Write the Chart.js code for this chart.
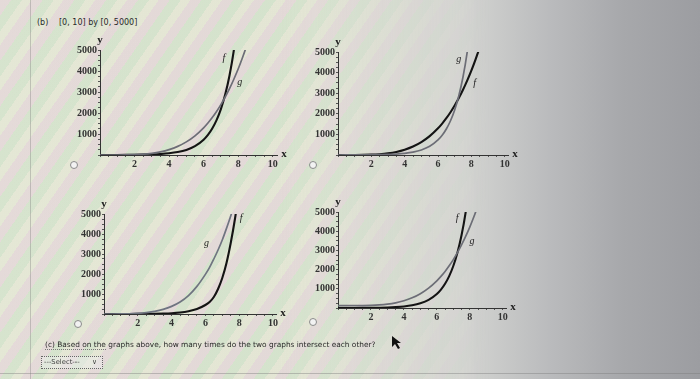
<!DOCTYPE html>
<html>
<head>
<meta charset="utf-8">
<script src="https://cdn.jsdelivr.net/npm/chart.js@4.4.1/dist/chart.umd.min.js"></script>
<style>
  html, body { margin: 0; padding: 0; }
  body {
    width: 700px; height: 379px; overflow: hidden; position: relative;
    background: linear-gradient(to right, #e1e4da 0%, #dfe2d8 45%, #d4d5d2 66%, #b9babc 79%, #a7a8ab 89%, #9c9da1 100%);
    font-family: "DejaVu Sans", sans-serif; color: #2a2a2a;
  }
  .stripes {
    position: absolute; left: 0; top: 0; width: 700px; height: 379px;
    background: repeating-linear-gradient(125deg, rgba(236,196,214,0.3) 0 9px, rgba(190,228,178,0.3) 9px 18px, rgba(240,240,200,0.25) 18px 26px);
    -webkit-mask-image: linear-gradient(to right, #000 0%, #000 40%, transparent 70%);
    mask-image: linear-gradient(to right, #000 0%, #000 40%, transparent 70%);
  }
  canvas { position: absolute; }
  .txt { position: absolute; white-space: nowrap; }
  .radio {
    position: absolute; width: 6px; height: 6px;
    border: 1px solid #8a8a8a; border-radius: 50%; background: #f2f2f2;
  }
  .select {
    position: absolute; left: 41px; top: 356px; width: 58px; height: 11px;
    border: 1px dotted #666; font-size: 6.8px; line-height: 11px; color: #444;
    padding-left: 2px; background: rgba(235,235,235,0.5);
  }
</style>
</head>
<body>
<div class="stripes"></div>
<div style="position:absolute;left:30px;top:0;width:1px;height:379px;background:rgba(120,120,120,0.35)"></div>
<div style="position:absolute;left:0;top:373px;width:700px;height:1px;background:rgba(120,120,120,0.4)"></div>

<div class="txt" style="left:37px;top:18px;font-size:8px">(b)</div>
<div class="txt" style="left:59px;top:18px;font-size:8px">[0, 10] by [0, 5000]</div>

<canvas id="panelA"></canvas>
<canvas id="panelB"></canvas>
<canvas id="panelC"></canvas>
<canvas id="panelD"></canvas>

<div class="radio" style="left:70px;top:161px"></div>
<div class="radio" style="left:309px;top:161px"></div>
<div class="radio" style="left:74px;top:320px"></div>
<div class="radio" style="left:309px;top:318px"></div>

<div class="txt" style="left:45px;top:340px;font-size:7.4px"><span style="border-bottom:1px dotted #777">(c) Based on the</span> graphs above, how many times do the two graphs intersect each other?</div>
<div class="select">---Select---<span style="position:absolute;right:5px;top:0">&#8744;</span></div>
<svg style="position:absolute;left:390px;top:335px" width="12" height="16">
  <polygon points="2,1 2,12 5,9 8,14 10,13 7,8 11,8" fill="#111"/>
</svg>

<script>
const xValues = [0, 0.5, 1, 1.5, 2, 2.5, 3, 3.5, 4, 4.5, 5, 5.5, 6, 6.25, 6.5, 6.75, 7, 7.25, 7.5, 7.75, 8, 8.25, 8.5, 8.75, 9];

// top left panel
const panelA_f = [1, 2, 3, 5, 9, 16, 27, 47, 81, 140, 243, 421, 729, 959, 1263, 1662, 2187, 2878, 3788, 4985, 6561, 8635, 11364, 14956, 19683];
const panelA_g = [0, 0, 1, 5, 16, 39, 81, 150, 256, 410, 625, 915, 1296, 1526, 1785, 2076, 2401, 2763, 3164, 3608, 4096, 4632, 5220, 5862, 6561];

// top right panel
const panelB_f = [0, 0, 1, 5, 16, 39, 81, 150, 256, 410, 625, 915, 1296, 1526, 1785, 2076, 2401, 2763, 3164, 3608, 4096, 4632, 5220, 5862, 6561];
const panelB_g = [1, 2, 3, 5, 9, 16, 27, 47, 81, 140, 243, 421, 729, 959, 1263, 1662, 2187, 2878, 3788, 4985, 6561, 8635, 11364, 14956, 19683];

// bottom left panel
const panelC_f = [0, 0, 1, 2, 4, 7, 12, 22, 40, 75, 140, 250, 450, 600, 850, 1250, 1800, 2550, 3550, 4750, 6200, 7900, 9900, 12200, 15000];
const panelC_g = [0, 0, 2, 8, 30, 70, 130, 230, 380, 600, 920, 1380, 1980, 2330, 2750, 3200, 3700, 4280, 4900, 5600, 6300, 7150, 8050, 9050, 10150];

// bottom right panel
const panelD_f = [1, 2, 3, 5, 9, 16, 27, 47, 81, 140, 243, 421, 729, 959, 1263, 1662, 2187, 2878, 3788, 4985, 6561, 8635, 11364, 14956, 19683];
const panelD_g = [120, 120, 121, 125, 136, 159, 201, 270, 376, 530, 745, 1035, 1416, 1646, 1905, 2196, 2521, 2883, 3284, 3728, 4216, 4752, 5340, 5982, 6681];

const BLACK = '#141414';
const GREY = '#6c6d76';

// axis letters and curve names
const labelPlugin = {
  id: 'curveLabels',
  afterDraw(chart, args, opts) {
    const ctx = chart.ctx, area = chart.chartArea;
    const xs = chart.scales.x, ys = chart.scales.y;
    ctx.save();
    ctx.fillStyle = '#222';
    ctx.textAlign = 'center';
    ctx.textBaseline = 'middle';
    ctx.font = 'bold 11px "Liberation Serif"';
    ctx.fillText('y', area.left, area.top - 10);
    ctx.fillText('x', area.right + 7, area.bottom - 1);
    ctx.font = 'italic 10px "Liberation Serif"';
    (opts.items || []).forEach(function (it) {
      ctx.fillText(it.text, xs.getPixelForValue(it.x), ys.getPixelForValue(it.y));
    });
    ctx.restore();
  }
};

function toPoints(ys) {
  return xValues.map(function (x, i) { return { x: x, y: ys[i] }; });
}

function makePanel(id, box, xMax, fVals, gVals, fColor, gColor, names) {
  const cv = document.getElementById(id);
  const left = box.L - 62, top = box.T - 16;
  const w = box.R - box.L + 82, h = box.B - box.T + 38;
  cv.style.left = left + 'px';
  cv.style.top = top + 'px';
  cv.width = w; cv.height = h;

  const tickFont = { family: '"Liberation Serif"', size: 10, weight: 'bold' };
  new Chart(cv.getContext('2d'), {
    type: 'line',
    data: {
      datasets: [
        { data: toPoints(gVals), borderColor: gColor, borderWidth: 1.7 },
        { data: toPoints(fVals), borderColor: fColor, borderWidth: 2.1 }
      ]
    },
    options: {
      responsive: false,
      animation: false,
      devicePixelRatio: 1,
      layout: { padding: { left: 0, top: 16, right: 20, bottom: 0 } },
      elements: { point: { radius: 0 }, line: { cubicInterpolationMode: 'monotone', fill: false } },
      plugins: {
        legend: { display: false },
        tooltip: { enabled: false },
        curveLabels: { items: names }
      },
      scales: {
        x: {
          type: 'linear', min: 0, max: xMax,
          afterFit: function (s) { s.height = 22; },
          border: { color: '#333', width: 1 },
          grid: { drawOnChartArea: false, tickLength: 2, tickColor: '#555' },
          ticks: {
            stepSize: 0.5, autoSkip: false, includeBounds: false, maxRotation: 0,
            padding: 1, color: '#333', font: tickFont,
            callback: function (v) { return (v > 0 && v % 2 === 0) ? String(v) : ''; }
          }
        },
        y: {
          min: 0, max: 5000,
          afterFit: function (s) { s.width = 62; },
          border: { color: '#333', width: 1 },
          grid: { drawOnChartArea: false, tickLength: 2, tickColor: '#555' },
          ticks: {
            stepSize: 250, autoSkip: false, padding: 1, color: '#333', font: tickFont,
            callback: function (v) { return (v > 0 && v % 1000 === 0) ? String(v) : ''; }
          }
        }
      }
    },
    plugins: [labelPlugin]
  });
}

makePanel('panelA', { L: 100, T: 50, R: 277, B: 155 }, 10.25, panelA_f, panelA_g, BLACK, GREY,
  [{ text: 'f', x: 7.17, y: 4610 }, { text: 'g', x: 8.09, y: 3460 }]);
makePanel('panelB', { L: 338, T: 52, R: 508, B: 155 }, 10.2, panelB_f, panelB_g, BLACK, GREY,
  [{ text: 'g', x: 7.25, y: 4650 }, { text: 'f', x: 8.2, y: 3485 }]);
makePanel('panelC', { L: 104, T: 214, R: 276, B: 314 }, 10.18, panelC_f, panelC_g, BLACK, '#6f7480',
  [{ text: 'g', x: 6.06, y: 3555 }, { text: 'f', x: 8.11, y: 4800 }]);
makePanel('panelD', { L: 338, T: 212, R: 506, B: 308 }, 10.2, panelD_f, panelD_g, BLACK, GREY,
  [{ text: 'f', x: 7.23, y: 4674 }, { text: 'g', x: 8.14, y: 3483 }]);
</script>
</body>
</html>
